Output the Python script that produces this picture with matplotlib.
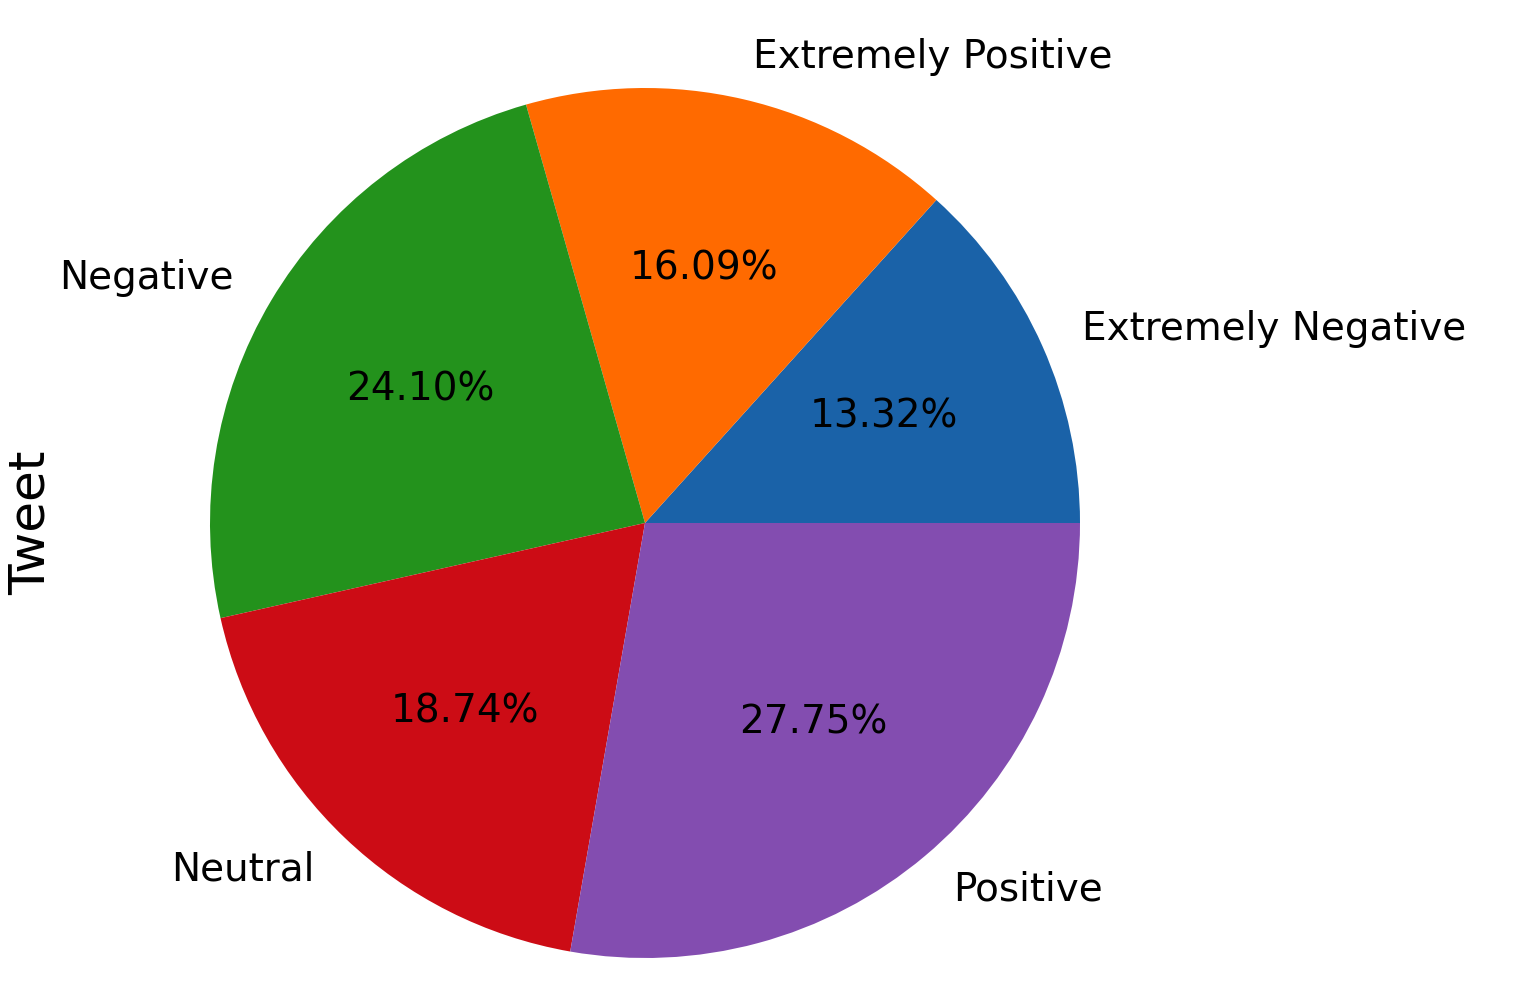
import matplotlib.pyplot as plt

labels = ['Extremely Negative', 'Extremely Positive', 'Negative', 'Neutral', 'Positive']
shares = [13.32, 16.09, 24.10, 18.74, 27.75]
colors = ['#1a62a8', '#ff6a00', '#23921c', '#cc0c15', '#834db0']

fig = plt.figure(figsize=(15.24, 9.84), dpi=100)
w = 1087.5
ax = fig.add_axes([(645 - w / 2) / 1524, (461 - w / 2) / 984, w / 1524, w / 984])

ax.pie(shares, labels=labels, colors=colors, autopct='%.2f%%',
       textprops={'fontsize': 28})
ax.set_aspect('equal')
ax.set_ylabel('Tweet', fontsize=36)
ax.yaxis.set_label_coords((55 - (645 - w / 2)) / w, 0.5)

fig.savefig('out.png', dpi=100)
